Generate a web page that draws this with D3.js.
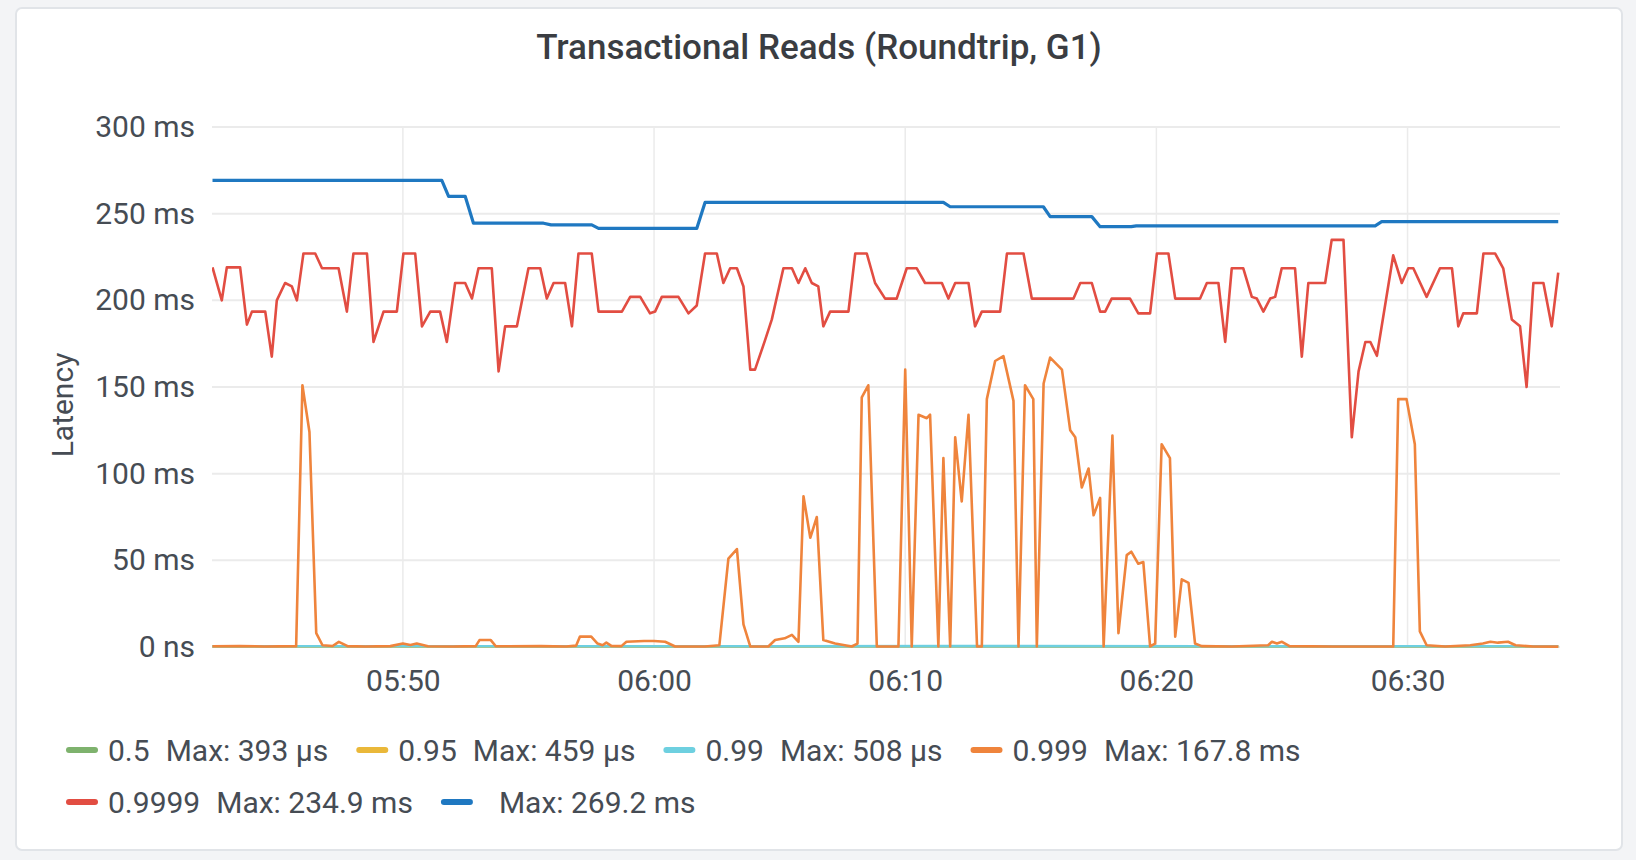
<!DOCTYPE html>
<html>
<head>
<meta charset="utf-8">
<script src="https://cdn.jsdelivr.net/npm/d3@7"></script>
<style>
  body { margin: 0; background: #f3f4f6; }
  svg { display: block; font-family: Roboto, "Noto Sans", sans-serif; }
</style>
</head>
<body>
<svg id="chart" width="1636" height="860"></svg>
<script>
// times are minutes after 05:40, values in ms
const baseTime = new Date(2020, 0, 1, 5, 40, 0);

const seriesNames = ["0.5", "0.95", "0.99", "0.999", "0.9999", ""];
const seriesColors = ["#7eb26d", "#eab839", "#6ed0e0", "#ef843c", "#e24d42", "#1f78c1"];
const legendMax = ["393 µs", "459 µs", "508 µs", "167.8 ms", "234.9 ms", "269.2 ms"];
const yTicks = [0, 50, 100, 150, 200, 250, 300];
const xTicks = ["05:50", "06:00", "06:10", "06:20", "06:30"];

const p50 = [[2.42,0.3],[12,0.32],[22,0.35],[32,0.39],[42,0.34],[56,0.3]];
const p95 = [[2.42,0.35],[12,0.38],[22,0.42],[32,0.46],[42,0.4],[56,0.36]];
const p99 = [[2.42,0.4],[12,0.42],[22,0.46],[32,0.51],[42,0.45],[56,0.4]];

const p999 = [[2.42,0.4],[3.5,0.6],[4.5,0.3],[5.75,0.5],[6.0,151],[6.28,124],[6.55,8],[6.8,1],
  [7.2,0.6],[7.45,3],[7.8,0.5],[8.5,0.3],[9.5,0.5],[10.0,2],[10.3,1.2],[10.55,2],[11.0,0.4],
  [12.0,0.3],[12.9,0.5],[13.05,4],[13.5,4],[13.7,0.4],[15.5,0.5],[16.5,0.3],[16.9,0.8],[17.05,6],
  [17.5,6],[17.75,2],[17.95,1],[18.1,2.5],[18.3,0.6],[18.7,0.5],[18.9,3],[19.6,3.5],[20.0,3.5],
  [20.44,3],[20.84,0.3],[22.03,0.3],[22.6,1],[22.96,51],[23.3,56.5],[23.56,13],[23.83,0.3],
  [24.55,0.3],[24.82,4],[25.2,5],[25.49,7],[25.75,3],[25.95,87],[26.22,63],[26.48,75],[26.74,4],
  [27.21,2],[27.87,0.3],[28.1,2],[28.27,144],[28.53,151],[28.87,0.3],[29.73,0.3],[30.0,160],
  [30.26,0.3],[30.53,134],[30.86,132],[30.99,134],[31.32,0.3],[31.52,109],[31.79,0.3],[31.99,121],
  [32.25,84],[32.52,134],[32.86,0.3],[33.05,0.3],[33.25,143],[33.58,165],[33.91,167.8],[34.31,142],
  [34.51,0.3],[34.77,151],[35.1,143],[35.24,0.3],[35.51,152],[35.77,167],[36.24,160],[36.57,125],
  [36.77,121],[37.03,92],[37.3,103],[37.5,76],[37.76,86],[37.9,0.3],[38.25,122],[38.49,8],
  [38.82,53],[39.0,55],[39.28,48],[39.48,49],[39.75,0.3],[39.95,2],[40.21,117],[40.54,109],
  [40.75,6],[41.01,39],[41.28,37],[41.54,2],[41.8,0.5],[43.0,0.3],[44.45,1],[44.6,3],[44.8,2],
  [45.0,3],[45.3,0.5],[47.0,0.3],[49.43,0.3],[49.63,143],[49.96,143],[50.29,117],[50.49,9],
  [50.76,1],[51.5,0.3],[52.5,1],[53.0,2],[53.3,3],[53.6,2.5],[54.0,3],[54.3,1],[55.0,0.3],[56.0,0.2]];

const p9999 = [[2.42,219],[2.79,200],[2.99,219],[3.52,219],[3.79,186],[3.99,193.5],[4.52,193.5],
  [4.78,167.5],[4.98,200],[5.31,210],[5.58,208],[5.78,200],[6.04,227],[6.51,227],[6.78,218.5],
  [7.44,218.5],[7.77,193.5],[8.03,227],[8.57,227],[8.83,176],[9.23,193.5],[9.76,193.5],[10.02,227],
  [10.49,227],[10.76,185],[11.09,193.5],[11.48,193.5],[11.75,176],[12.08,210],[12.48,210],
  [12.75,201],[13.01,218.5],[13.54,218.5],[13.81,159],[14.07,185],[14.54,185],[15.0,218.5],
  [15.47,218.5],[15.73,201],[16.0,210],[16.46,210],[16.73,185],[16.99,227],[17.52,227],
  [17.79,193.5],[18.72,193.5],[19.05,202],[19.45,202],[19.84,192.5],[20.04,193.5],[20.31,202],
  [20.97,202],[21.37,192.5],[21.7,197],[22.03,227],[22.5,227],[22.76,210],[23.03,218.5],
  [23.3,218.5],[23.56,208],[23.83,160],[24.02,160],[24.42,177],[24.69,189],[25.15,218.5],
  [25.49,218.5],[25.75,210],[26.02,218.5],[26.28,210],[26.54,208],[26.74,185],[27.01,193.5],
  [27.74,193.5],[28.01,227],[28.47,227],[28.8,210],[29.2,201],[29.66,201],[30.06,218.5],
  [30.46,218.5],[30.79,210],[31.46,210],[31.72,201],[31.99,210],[32.52,210],[32.78,185],
  [33.05,193.5],[33.78,193.5],[34.05,227],[34.71,227],[35.04,201],[36.7,201],[36.97,210],
  [37.43,210],[37.76,193.5],[37.96,193.5],[38.22,201],[38.95,201],[39.28,192.5],[39.75,192.5],
  [40.02,227],[40.48,227],[40.75,201],[41.74,201],[42.01,210],[42.47,210],[42.74,176],[43.0,218.5],
  [43.46,218.5],[43.8,202],[44.0,201],[44.26,193.5],[44.53,201],[44.73,202],[44.99,218.5],
  [45.52,218.5],[45.79,167.5],[46.05,210],[46.72,210],[46.98,234.9],[47.45,234.9],[47.78,121],
  [48.05,159],[48.32,176],[48.52,176],[48.78,168],[49.43,226],[49.77,210],[50.03,218.5],
  [50.23,218.5],[50.76,202],[51.29,218.5],[51.77,218.5],[52.02,185],[52.22,192.5],[52.76,192.5],
  [53.02,227],[53.49,227],[53.81,218.5],[54.15,189],[54.48,185],[54.74,150],[55.01,210],
  [55.41,210],[55.74,185],[56.0,216]];

const pMax = [[2.42,269.2],[11.55,269.2],[11.82,260],[12.48,260],[12.81,244.5],[15.6,244.5],
  [15.9,243.5],[17.52,243.5],[17.79,241.5],[21.7,241.5],[22.03,256.5],[31.52,256.5],[31.79,254],
  [35.5,254],[35.77,248.3],[37.43,248.3],[37.76,242.5],[39.0,242.5],[39.2,243],[48.71,243],
  [48.97,245.4],[56.0,245.4]];

const allSeries = [p50, p95, p99, p999, p9999, pMax];

const toDate = m => new Date(baseTime.getTime() + m * 60000);
const parseTick = s => {
  const [h, mm] = s.split(":").map(Number);
  return new Date(2020, 0, 1, h, mm, 0);
};

const svg = d3.select("#chart");
const textColor = "#464c54";
const fontSize = "30px";

// panel
svg.append("rect")
  .attr("x", 16).attr("y", 8)
  .attr("width", 1606).attr("height", 842)
  .attr("rx", 6)
  .attr("fill", "#ffffff")
  .attr("stroke", "#e1e4e8")
  .attr("stroke-width", 2);

// title
svg.append("text")
  .attr("x", 819).attr("y", 47)
  .attr("dy", "0.35em")
  .attr("text-anchor", "middle")
  .style("font-size", "35px")
  .style("font-weight", 500)
  .style("fill", "#3a3d42")
  .text("Transactional Reads (Roundtrip, G1)");

const plot = { left: 212, right: 1560, top: 127, bottom: 647 };

const x = d3.scaleTime()
  .domain([toDate(2.4), toDate(56.07)])
  .range([plot.left, plot.right]);

const y = d3.scaleLinear()
  .domain([0, 300])
  .range([plot.bottom, plot.top]);

// grid
svg.append("g")
  .selectAll("line")
  .data(yTicks)
  .join("line")
  .attr("x1", plot.left).attr("x2", plot.right)
  .attr("y1", d => y(d)).attr("y2", d => y(d))
  .attr("stroke", "#ebebeb")
  .attr("stroke-width", 2);

svg.append("g")
  .selectAll("line")
  .data(xTicks.map(parseTick))
  .join("line")
  .attr("x1", d => x(d)).attr("x2", d => x(d))
  .attr("y1", plot.top).attr("y2", plot.bottom)
  .attr("stroke", "#ebebeb")
  .attr("stroke-width", 1.5);

// axes
const yAxis = svg.append("g")
  .attr("transform", `translate(${plot.left},0)`)
  .call(d3.axisLeft(y).tickValues(yTicks).tickSize(0).tickPadding(17)
    .tickFormat(d => d === 0 ? "0 ns" : d + " ms"));
yAxis.select(".domain").remove();

const xAxis = svg.append("g")
  .attr("transform", `translate(0,${plot.bottom})`)
  .call(d3.axisBottom(x).tickValues(xTicks.map(parseTick)).tickSize(0).tickPadding(23)
    .tickFormat(d3.timeFormat("%H:%M")));
xAxis.select(".domain").remove();

svg.selectAll(".tick text")
  .style("font-size", fontSize)
  .style("font-family", "Roboto, 'Noto Sans', sans-serif")
  .style("fill", textColor);

svg.append("text")
  .attr("transform", "translate(62,405) rotate(-90)")
  .attr("dy", "0.35em")
  .attr("text-anchor", "middle")
  .style("font-size", fontSize)
  .style("fill", textColor)
  .text("Latency");

// series
svg.append("clipPath").attr("id", "plotClip")
  .append("rect")
  .attr("x", plot.left).attr("y", plot.top - 5)
  .attr("width", plot.right - plot.left).attr("height", plot.bottom - plot.top + 10);

const line = d3.line()
  .x(d => x(toDate(d[0])))
  .y(d => y(d[1]));

svg.append("g")
  .attr("clip-path", "url(#plotClip)")
  .selectAll("path")
  .data(allSeries)
  .join("path")
  .attr("d", line)
  .attr("fill", "none")
  .attr("stroke", (d, i) => seriesColors[i])
  .attr("stroke-width", (d, i) => i === 5 ? 3.2 : 2.6)
  .attr("stroke-linejoin", "round");

// legend
const legendRows = [[0, 1, 2, 3], [4, 5]];
legendRows.forEach((row, r) => {
  let lx = 66;
  const cy = 750 + r * 52;
  row.forEach(i => {
    svg.append("rect")
      .attr("x", lx).attr("y", cy - 3)
      .attr("width", 32).attr("height", 6)
      .attr("rx", 3)
      .attr("fill", seriesColors[i]);
    lx += 32 + 10;
    const nm = svg.append("text")
      .attr("x", lx).attr("y", cy).attr("dy", "0.35em")
      .style("font-size", fontSize).style("fill", textColor)
      .text(seriesNames[i]);
    lx += nm.node().getComputedTextLength() + 16;
    const mx = svg.append("text")
      .attr("x", lx).attr("y", cy).attr("dy", "0.35em")
      .style("font-size", fontSize).style("fill", textColor)
      .text("Max: " + legendMax[i]);
    lx += mx.node().getComputedTextLength() + 28;
  });
});
</script>
</body>
</html>
